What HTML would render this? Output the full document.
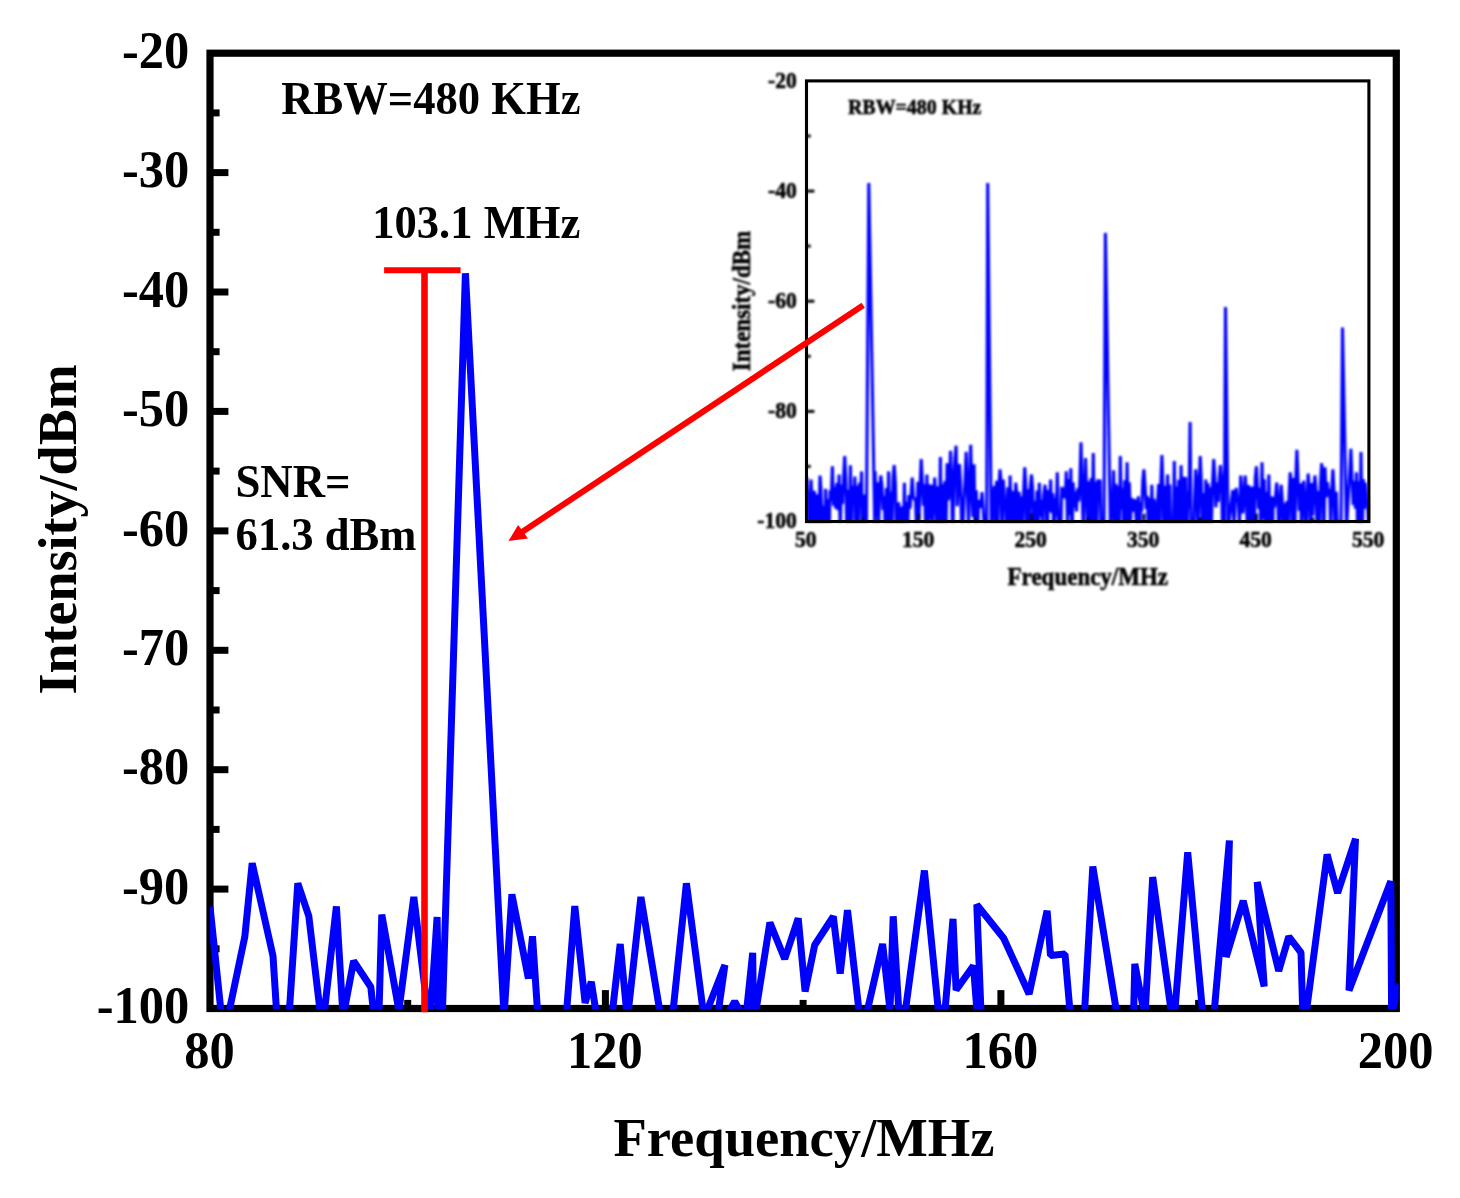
<!DOCTYPE html>
<html lang="en"><head><meta charset="utf-8"><title>RF spectrum</title>
<style>html,body{margin:0;padding:0;background:#fff}svg{display:block}</style></head>
<body>
<svg width="1460" height="1198" viewBox="0 0 1460 1198">
<defs><clipPath id="cm"><rect x="210.0" y="53.2" width="1188.6" height="956.4"/></clipPath>
<filter id="bl" x="-5%" y="-5%" width="110%" height="110%"><feGaussianBlur stdDeviation="0.8"/></filter>
<clipPath id="ci"><rect x="806.5" y="80.9" width="562.4" height="441.4"/></clipPath></defs>
<rect width="1460" height="1198" fill="#fff"/>
<g stroke="#000" stroke-width="7.2" fill="none" stroke-linecap="butt">
<rect x="210.0" y="53.2" width="1186.3" height="955.3"/>
</g><g stroke="#000" stroke-width="7.0" fill="none">
<path d="M210.0,172.6 H228.4"/>
<path d="M210.0,292.0 H228.4"/>
<path d="M210.0,411.4 H228.4"/>
<path d="M210.0,530.9 H228.4"/>
<path d="M210.0,650.3 H228.4"/>
<path d="M210.0,769.7 H228.4"/>
<path d="M210.0,889.1 H228.4"/>
<path d="M210.0,112.9 H219.6"/>
<path d="M210.0,232.3 H219.6"/>
<path d="M210.0,351.7 H219.6"/>
<path d="M210.0,471.1 H219.6"/>
<path d="M210.0,590.6 H219.6"/>
<path d="M210.0,710.0 H219.6"/>
<path d="M210.0,829.4 H219.6"/>
<path d="M210.0,948.8 H219.6"/>
<path d="M605.4,1008.5 V990.1"/>
<path d="M1000.9,1008.5 V990.1"/>
<path d="M407.7,1008.5 V999.9"/>
<path d="M803.1,1008.5 V999.9"/>
<path d="M1198.6,1008.5 V999.9"/>
</g>
<g filter="url(#bl)">
<path clip-path="url(#ci)" d="M806.5,477.0 L807.6,493.5 L808.7,525.5 L809.9,526.0 L811.0,479.6 L812.1,502.4 L813.2,550.9 L814.4,490.7 L815.5,532.8 L816.6,494.2 L817.7,539.3 L818.9,528.0 L820.0,475.5 L821.1,491.8 L822.2,531.1 L823.4,505.9 L824.5,551.0 L825.6,488.9 L826.7,525.6 L827.9,499.3 L829.0,543.3 L830.1,490.3 L831.2,501.2 L832.4,466.3 L833.5,505.7 L834.6,487.3 L835.7,508.6 L836.9,483.1 L838.0,510.3 L839.1,474.5 L840.2,532.0 L841.4,484.8 L842.5,503.9 L843.6,477.3 L844.7,456.0 L845.9,480.5 L847.0,541.0 L848.1,489.7 L849.2,544.5 L850.4,465.2 L851.5,535.2 L852.6,486.0 L853.7,500.7 L854.9,476.5 L856.0,550.1 L857.1,485.9 L858.2,550.3 L859.4,482.8 L860.5,501.2 L861.6,471.4 L862.7,543.2 L863.9,494.6 L865.0,549.2 L866.4,529.5 L868.8,183.0 L874.8,529.5 L875.1,471.4 L876.2,516.1 L877.4,482.3 L878.5,533.6 L879.6,492.2 L880.7,475.5 L881.9,485.0 L883.0,510.0 L884.1,496.1 L885.2,526.8 L886.4,488.0 L887.5,528.8 L888.6,471.4 L889.7,541.0 L890.9,491.7 L892.0,525.1 L893.1,477.6 L894.2,465.2 L895.4,484.0 L896.5,545.1 L897.6,513.2 L898.7,502.2 L899.9,532.2 L901.0,507.8 L902.1,508.0 L903.2,545.5 L904.4,482.7 L905.5,542.9 L906.6,501.8 L907.7,529.7 L908.9,495.1 L910.0,508.6 L911.1,494.4 L912.2,477.6 L913.4,497.7 L914.5,498.4 L915.6,501.5 L916.7,536.4 L917.9,481.7 L919.0,518.6 L920.1,486.6 L921.2,459.1 L922.4,482.4 L923.5,505.8 L924.6,484.2 L925.7,533.1 L926.9,474.5 L928.0,533.5 L929.1,484.3 L930.2,519.6 L931.4,484.8 L932.5,528.0 L933.6,498.3 L934.7,477.6 L935.9,503.4 L937.0,536.0 L938.1,486.2 L939.2,547.6 L940.4,457.0 L941.5,549.5 L942.6,484.4 L943.7,528.9 L944.9,481.0 L946.0,532.3 L947.1,463.2 L948.2,500.3 L949.3,491.6 L950.5,450.9 L951.6,486.4 L952.7,548.5 L953.8,479.4 L955.0,457.6 L956.1,445.7 L957.2,506.2 L958.3,482.9 L959.5,464.2 L960.6,485.6 L961.7,529.5 L962.8,530.7 L964.0,499.2 L965.1,478.9 L966.2,451.9 L967.3,486.5 L968.5,527.0 L969.6,485.4 L970.7,444.8 L971.8,489.7 L973.0,517.0 L974.1,464.2 L975.2,541.2 L976.3,490.4 L977.5,543.4 L978.6,499.7 L979.7,506.2 L980.8,507.7 L982.0,492.0 L983.1,508.0 L984.2,525.9 L986.7,529.5 L987.7,183.0 L991.3,529.5 L994.3,485.9 L995.5,528.5 L996.6,480.9 L997.7,526.1 L998.8,487.9 L1000.0,469.4 L1001.1,483.1 L1002.2,550.9 L1003.3,479.6 L1004.5,500.8 L1005.6,501.5 L1006.7,528.3 L1007.8,487.2 L1009.0,548.4 L1010.1,475.5 L1011.2,524.6 L1012.3,490.8 L1013.5,533.0 L1014.6,537.3 L1015.7,482.7 L1016.8,493.5 L1018.0,551.5 L1019.1,491.9 L1020.2,527.2 L1021.3,496.3 L1022.5,538.3 L1023.6,492.9 L1024.7,467.3 L1025.8,485.1 L1027.0,544.3 L1028.1,489.3 L1029.2,549.5 L1030.3,487.1 L1031.5,474.5 L1032.6,488.8 L1033.7,529.0 L1034.8,500.7 L1036.0,549.0 L1037.1,490.6 L1038.2,533.7 L1039.3,482.7 L1040.5,516.5 L1041.6,499.8 L1042.7,526.2 L1043.8,494.2 L1045.0,484.8 L1046.1,496.1 L1047.2,550.3 L1048.3,490.1 L1049.5,511.3 L1050.6,479.6 L1051.7,513.0 L1052.8,493.2 L1054.0,545.6 L1055.1,497.9 L1056.2,515.8 L1057.3,472.4 L1058.5,527.9 L1059.6,536.7 L1060.7,538.8 L1061.8,486.8 L1063.0,497.5 L1064.1,488.0 L1065.2,498.6 L1066.3,471.4 L1067.5,525.3 L1068.6,479.0 L1069.7,515.1 L1070.8,468.3 L1072.0,543.3 L1073.1,482.3 L1074.2,507.1 L1075.3,491.5 L1076.5,511.5 L1077.6,488.2 L1078.7,501.4 L1079.8,482.7 L1081.0,442.2 L1082.1,491.6 L1083.2,526.1 L1084.3,490.1 L1085.5,458.0 L1086.6,491.0 L1087.7,542.4 L1088.8,481.3 L1089.9,532.1 L1091.1,478.0 L1092.2,534.1 L1093.3,452.9 L1094.4,534.6 L1095.6,481.8 L1096.7,535.6 L1097.8,479.4 L1098.9,500.9 L1100.1,479.6 L1101.2,533.5 L1102.3,537.2 L1104.0,529.5 L1105.4,232.9 L1110.4,529.5 L1112.4,506.5 L1113.6,470.4 L1114.7,528.8 L1115.8,483.7 L1116.9,536.0 L1118.1,486.0 L1119.2,551.2 L1120.3,456.0 L1121.4,509.3 L1122.6,488.2 L1123.7,532.0 L1124.8,480.2 L1125.9,530.9 L1127.1,462.2 L1128.2,531.1 L1129.3,482.2 L1130.4,524.6 L1131.6,497.9 L1132.7,509.3 L1133.8,511.1 L1134.9,499.1 L1136.1,518.6 L1137.2,541.7 L1138.3,496.4 L1139.4,551.5 L1140.6,502.3 L1141.7,511.7 L1142.8,480.8 L1143.9,469.4 L1145.1,486.9 L1146.2,508.9 L1147.3,495.9 L1148.4,532.8 L1149.6,498.0 L1150.7,547.8 L1151.8,484.8 L1152.9,524.7 L1154.1,498.8 L1155.2,512.5 L1156.3,533.9 L1157.4,507.2 L1158.6,484.1 L1159.7,538.6 L1160.8,483.8 L1161.9,455.0 L1163.1,491.6 L1164.2,549.5 L1165.3,485.9 L1166.4,545.7 L1167.6,474.5 L1168.7,530.4 L1169.8,484.6 L1170.9,544.1 L1172.1,534.1 L1173.2,547.1 L1174.3,461.1 L1175.4,535.8 L1176.6,486.5 L1177.7,525.1 L1178.8,479.8 L1179.9,536.9 L1181.1,465.2 L1182.2,527.0 L1183.3,476.7 L1184.4,544.3 L1185.6,476.9 L1186.7,550.2 L1187.8,491.9 L1188.9,508.7 L1190.1,422.1 L1191.2,545.8 L1192.3,530.5 L1193.4,548.7 L1194.6,499.1 L1195.7,469.4 L1196.8,481.1 L1197.9,528.9 L1199.1,490.3 L1200.2,456.0 L1201.3,481.8 L1202.4,540.2 L1203.6,493.1 L1204.7,546.0 L1205.8,479.6 L1206.9,536.4 L1208.1,483.2 L1209.2,541.8 L1210.3,487.2 L1211.4,525.4 L1212.6,482.9 L1213.7,459.1 L1214.8,476.4 L1215.9,507.3 L1217.1,482.6 L1218.2,501.9 L1219.3,478.5 L1220.4,465.2 L1221.6,478.3 L1222.7,546.4 L1224.3,529.5 L1225.5,306.9 L1228.1,529.5 L1232.8,490.0 L1233.9,525.8 L1235.0,504.9 L1236.2,487.8 L1237.3,499.7 L1238.4,501.5 L1239.5,530.2 L1240.7,475.5 L1241.8,492.4 L1242.9,513.3 L1244.0,498.9 L1245.2,475.5 L1246.3,494.9 L1247.4,533.3 L1248.5,485.0 L1249.7,543.2 L1250.8,486.8 L1251.9,547.7 L1253.0,486.5 L1254.2,541.3 L1255.3,478.3 L1256.4,466.3 L1257.5,487.2 L1258.7,508.9 L1259.8,487.8 L1260.9,534.3 L1262.0,462.2 L1263.2,518.8 L1264.3,479.3 L1265.4,547.4 L1266.5,491.8 L1267.7,527.2 L1268.8,474.5 L1269.9,525.1 L1271.0,496.2 L1272.2,550.5 L1273.3,496.9 L1274.4,507.3 L1275.5,496.7 L1276.7,482.7 L1277.8,500.3 L1278.9,538.6 L1280.0,505.6 L1281.2,484.8 L1282.3,500.7 L1283.4,540.1 L1284.5,503.2 L1285.7,549.8 L1286.8,501.0 L1287.9,533.3 L1289.0,496.4 L1290.2,472.4 L1291.3,483.6 L1292.4,551.0 L1293.5,478.0 L1294.7,540.8 L1295.8,478.5 L1296.9,449.8 L1298.0,478.7 L1299.2,510.8 L1300.3,483.4 L1301.4,529.7 L1302.5,497.2 L1303.7,480.7 L1304.8,503.6 L1305.9,550.8 L1307.0,498.8 L1308.2,473.5 L1309.3,488.8 L1310.4,527.4 L1311.5,483.0 L1312.7,515.7 L1313.8,490.6 L1314.9,475.5 L1316.0,488.3 L1317.2,535.9 L1318.3,491.0 L1319.4,547.5 L1320.5,483.3 L1321.7,463.2 L1322.8,487.4 L1323.9,535.9 L1325.0,467.3 L1326.2,497.4 L1327.3,482.2 L1328.4,495.5 L1329.5,489.1 L1330.7,527.2 L1331.8,488.7 L1332.9,469.4 L1334.0,491.2 L1335.2,535.1 L1336.3,491.8 L1337.4,531.9 L1338.5,531.6 L1339.7,534.0 L1341.0,529.5 L1342.5,327.6 L1346.5,529.5 L1349.8,469.9 L1350.9,448.8 L1352.0,479.0 L1353.2,505.0 L1354.3,481.1 L1355.4,508.7 L1356.5,472.4 L1357.7,534.9 L1358.8,481.2 L1359.9,533.8 L1361.0,451.9 L1362.2,540.9 L1363.3,479.0 L1364.4,508.9 L1365.5,482.7 L1366.7,496.2 L1367.8,506.6 L1368.9,530.3" fill="none" stroke="#0000ff" stroke-width="3.1" stroke-linejoin="bevel"/>
<g stroke="#000" stroke-width="2.9" fill="none">
<path d="M806.5,191.1 H814.4"/>
<path d="M806.5,301.2 H814.4"/>
<path d="M806.5,411.4 H814.4"/>
<path d="M806.5,136.0 H810.7"/>
<path d="M806.5,246.1 H810.7"/>
<path d="M806.5,356.3 H810.7"/>
<path d="M806.5,466.4 H810.7"/>
<path d="M919.0,521.5 V513.6"/>
<path d="M1031.5,521.5 V513.6"/>
<path d="M1143.9,521.5 V513.6"/>
<path d="M1256.4,521.5 V513.6"/>
<path d="M862.7,521.5 V517.3"/>
<path d="M975.2,521.5 V517.3"/>
<path d="M1087.7,521.5 V517.3"/>
<path d="M1200.2,521.5 V517.3"/>
<path d="M1312.7,521.5 V517.3"/>
</g>
</g>
<rect x="806.5" y="80.9" width="562.4" height="440.6" fill="none" stroke="#000" stroke-width="3.1"/>
<path clip-path="url(#cm)" d="M210.0,906.5 L222.2,1023.0 L226.7,1023.0 L244.8,936.8 L252.2,863.2 L273.0,956.0 L277.3,1023.0 L288.6,1023.0 L297.8,883.3 L308.8,916.1 L321.5,1023.0 L323.1,1023.0 L336.4,906.4 L343.4,1023.0 L342.0,1023.0 L353.6,961.0 L370.8,987.0 L374.7,1023.0 L378.7,1023.0 L381.8,914.7 L398.9,1010.5 L413.8,897.0 L429.1,1023.0 L430.1,1023.0 L437.1,917.0 L438.8,1023.0 L442.1,1023.0 L465.4,273.3 L504.4,1023.0 L503.6,1023.0 L511.9,894.3 L528.4,978.5 L532.5,936.3 L538.3,1023.0 L565.7,1023.0 L574.8,906.0 L585.1,1003.0 L591.3,981.7 L597.7,1023.0 L611.1,1023.0 L620.2,944.0 L627.7,1023.0 L627.0,1023.0 L640.9,897.0 L661.8,1023.0 L671.8,1023.0 L686.4,883.3 L704.7,1023.0 L702.2,1023.0 L724.9,965.0 L716.7,1023.0 L722.9,1023.0 L734.7,1001.5 L746.5,1023.0 L745.3,1023.0 L752.7,952.8 L753.6,1023.0 L754.0,1023.0 L769.9,922.5 L784.7,959.0 L798.2,918.4 L805.1,991.5 L814.7,945.0 L833.3,916.5 L840.2,973.5 L847.5,910.1 L860.4,1023.0 L864.5,1023.0 L882.6,944.0 L890.0,1010.0 L893.2,916.3 L899.5,1023.0 L903.7,1023.0 L924.4,870.5 L939.6,1023.0 L943.9,1023.0 L953.0,918.8 L956.1,990.0 L973.4,965.7 L977.9,1023.0 L981.4,1023.0 L976.8,904.6 L1003.7,938.2 L1029.1,994.0 L1047.1,910.8 L1050.5,955.4 L1065.0,954.0 L1071.0,1023.0 L1083.9,1023.0 L1092.8,866.5 L1118.4,1023.0 L1133.4,1023.0 L1134.8,963.8 L1146.1,1023.0 L1144.6,1023.0 L1152.7,877.1 L1172.8,1023.0 L1173.9,1023.0 L1187.7,852.3 L1203.6,1023.0 L1213.2,1023.0 L1229.4,840.5 L1226.2,957.0 L1243.2,900.8 L1264.2,986.5 L1257.2,882.0 L1278.7,971.0 L1288.8,936.5 L1301.0,952.6 L1303.0,1023.0 L1304.9,1023.0 L1327.1,854.4 L1337.6,893.0 L1355.5,838.9 L1349.0,990.5 L1390.8,881.2 L1391.6,1014.0 L1399.5,984.0" fill="none" stroke="#0000ff" stroke-width="7" stroke-linejoin="bevel"/>
<g stroke="#ff0000" fill="none">
<path d="M384.1,270.3 H460.6" stroke-width="6"/>
<path d="M424.5,270.3 V1012.2" stroke-width="6.6"/>
<path d="M863.2,305.2 L520.2,533.2" stroke-width="6.0"/>
</g>
<polygon points="508.5,541 518.1,524.9 528,538.6" fill="#ff0000"/>
<g font-family="'Liberation Serif', serif" font-weight="bold" fill="#000">
<text transform="translate(189.3,67.8) scale(1,1.045)" font-size="50.5" text-anchor="end">-20</text>
<text transform="translate(189.3,187.2) scale(1,1.045)" font-size="50.5" text-anchor="end">-30</text>
<text transform="translate(189.3,306.6) scale(1,1.045)" font-size="50.5" text-anchor="end">-40</text>
<text transform="translate(189.3,426.0) scale(1,1.045)" font-size="50.5" text-anchor="end">-50</text>
<text transform="translate(189.3,545.5) scale(1,1.045)" font-size="50.5" text-anchor="end">-60</text>
<text transform="translate(189.3,664.9) scale(1,1.045)" font-size="50.5" text-anchor="end">-70</text>
<text transform="translate(189.3,784.3) scale(1,1.045)" font-size="50.5" text-anchor="end">-80</text>
<text transform="translate(189.3,903.7) scale(1,1.045)" font-size="50.5" text-anchor="end">-90</text>
<text transform="translate(189.3,1023.1) scale(1,1.045)" font-size="50.5" text-anchor="end">-100</text>
<text transform="translate(209.4,1068.2) scale(1,1.045)" font-size="50.5" text-anchor="middle">80</text>
<text transform="translate(604.8,1068.2) scale(1,1.045)" font-size="50.5" text-anchor="middle">120</text>
<text transform="translate(1000.3,1068.2) scale(1,1.045)" font-size="50.5" text-anchor="middle">160</text>
<text transform="translate(1395.7,1068.2) scale(1,1.045)" font-size="50.5" text-anchor="middle">200</text>
<text transform="translate(804.0,1156.3) scale(1,1.000)" font-size="54.6" text-anchor="middle">Frequency/MHz</text>
<text transform="translate(76.3,529.4) rotate(-90) scale(1,1.000)" font-size="54.0" text-anchor="middle">Intensity/dBm</text>
<text transform="translate(281.3,113.8) scale(1,1.045)" font-size="44.6" text-anchor="start">RBW=480 KHz</text>
<text transform="translate(372.2,238.0) scale(1,1.045)" font-size="44.6" text-anchor="start">103.1 MHz</text>
<text transform="translate(235.4,496.6) scale(1,1.045)" font-size="44.8" text-anchor="start">SNR=</text>
<text transform="translate(235.6,549.8) scale(1,1.045)" font-size="44.6" text-anchor="start">61.3 dBm</text>
<g filter="url(#bl)" stroke="#000" stroke-width="0.55">
<text transform="translate(796.8,87.5) scale(1,1.080)" font-size="21.6" text-anchor="end">-20</text>
<text transform="translate(796.8,197.7) scale(1,1.080)" font-size="21.6" text-anchor="end">-40</text>
<text transform="translate(796.8,307.8) scale(1,1.080)" font-size="21.6" text-anchor="end">-60</text>
<text transform="translate(796.8,418.0) scale(1,1.080)" font-size="21.6" text-anchor="end">-80</text>
<text transform="translate(796.8,528.1) scale(1,1.080)" font-size="21.6" text-anchor="end">-100</text>
<text transform="translate(805.7,547.2) scale(1,1.080)" font-size="21.6" text-anchor="middle">50</text>
<text transform="translate(918.2,547.2) scale(1,1.080)" font-size="21.6" text-anchor="middle">150</text>
<text transform="translate(1030.7,547.2) scale(1,1.080)" font-size="21.6" text-anchor="middle">250</text>
<text transform="translate(1143.1,547.2) scale(1,1.080)" font-size="21.6" text-anchor="middle">350</text>
<text transform="translate(1255.6,547.2) scale(1,1.080)" font-size="21.6" text-anchor="middle">450</text>
<text transform="translate(1368.1,547.2) scale(1,1.080)" font-size="21.6" text-anchor="middle">550</text>
<text transform="translate(1087.8,585.3) scale(1,1.060)" font-size="23.0" text-anchor="middle">Frequency/MHz</text>
<text transform="translate(750.3,301.0) rotate(-90) scale(1,1.060)" font-size="23.0" text-anchor="middle">Intensity/dBm</text>
<text transform="translate(848.0,113.8) scale(1,1.080)" font-size="19.9" text-anchor="start">RBW=480 KHz</text>
</g>
</g>
</svg>
</body></html>
